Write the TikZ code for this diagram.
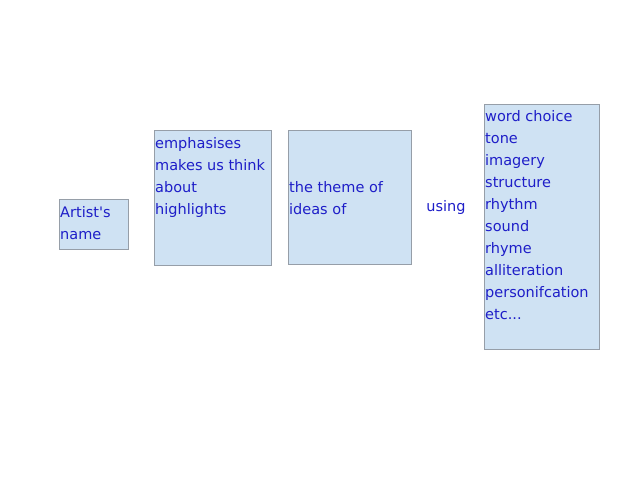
\documentclass[tikz,border=0pt]{standalone}
\usepackage{fontspec}
\newfontfamily\wordfont{DejaVu Sans}
\usetikzlibrary{positioning}

\definecolor{boxblue}{RGB}{207,226,243}
\definecolor{boxgray}{RGB}{150,158,168}
\definecolor{wordblue}{RGB}{30,30,200}

\tikzset{
  box/.style={draw=boxgray, fill=boxblue, line width=0.8pt, inner sep=0pt, anchor=north west},
  words/.style={text=wordblue, font=\wordfont\fontsize{14.5}{22}\selectfont, align=left, inner sep=1pt}
}

\begin{document}
\begin{tikzpicture}[x=1pt,y=-1pt]
      \useasboundingbox (0,0) rectangle (638,478);

      % the four boxes
      \node[box, minimum width=69pt,  minimum height=50pt]  (artistbox) at (59,199) {};
      \node[box, minimum width=117pt, minimum height=135pt] (verbbox)   at (154,130) {};
      \node[box, minimum width=123pt, minimum height=134pt] (themebox)  at (288,130) {};
      \node[box, minimum width=115pt, minimum height=245pt] (techbox)   at (484,104) {};

      % what is written in them
      \node[words, anchor=west] (artist) at ([shift={(0,-1)}]artistbox.west) {Artist's\\name};
      \node[words, anchor=north west] (verbs) at ([shift={(0,6)}]verbbox.north west)
          {emphasises\\makes us think\\about\\highlights};
      \node[words, anchor=west] (theme) at ([shift={(0,1)}]themebox.west) {the theme of\\ideas of};
      \node[words, anchor=north west] (techniques) at ([shift={(0,5)}]techbox.north west)
          {word choice\\tone\\imagery\\structure\\rhythm\\sound\\rhyme\\alliteration\\personifcation\\etc...};

      \node[words] (using) at (446,208) {using};
\end{tikzpicture}
\end{document}
